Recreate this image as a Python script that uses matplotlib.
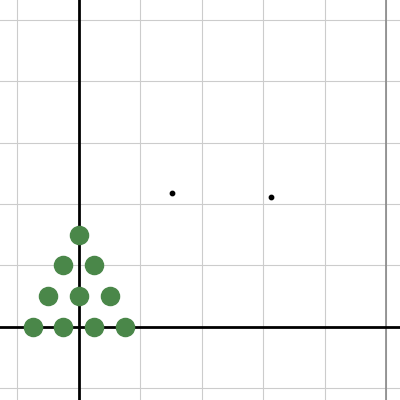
import matplotlib
matplotlib.use("Agg")
import matplotlib.pyplot as plt

green_x = [-0.75, -0.25, 0.25, 0.75, -0.5, 0.0, 0.5, -0.25, 0.25, 0.0]
green_y = [0, 0, 0, 0, 0.5, 0.5, 0.5, 1.0, 1.0, 1.5]
black_x = [1.51, 3.12]
black_y = [2.18, 2.11]

fig = plt.figure(figsize=(4, 4), dpi=100)
ax = fig.add_axes([0, 0, 1, 1])
ax.set_xlim(-1.28, 5.22)
ax.set_ylim(-1.19, 5.32)
for v in range(-1, 6):
    ax.axvline(v, color="#cccccc", lw=0.8, zorder=0)
    ax.axhline(v, color="#cccccc", lw=0.8, zorder=0)
ax.axvline(5, color="#888888", lw=1.2, zorder=0)
ax.axvline(0, color="black", lw=2, zorder=1)
ax.axhline(0, color="black", lw=2, zorder=1)
ax.scatter(green_x, green_y, s=170, color="#4a8749", zorder=3)
ax.scatter(black_x, black_y, s=10, color="black", zorder=3)
ax.set_xticks([]); ax.set_yticks([])
for s in ax.spines.values():
    s.set_visible(False)
fig.savefig("out.png", dpi=100)
